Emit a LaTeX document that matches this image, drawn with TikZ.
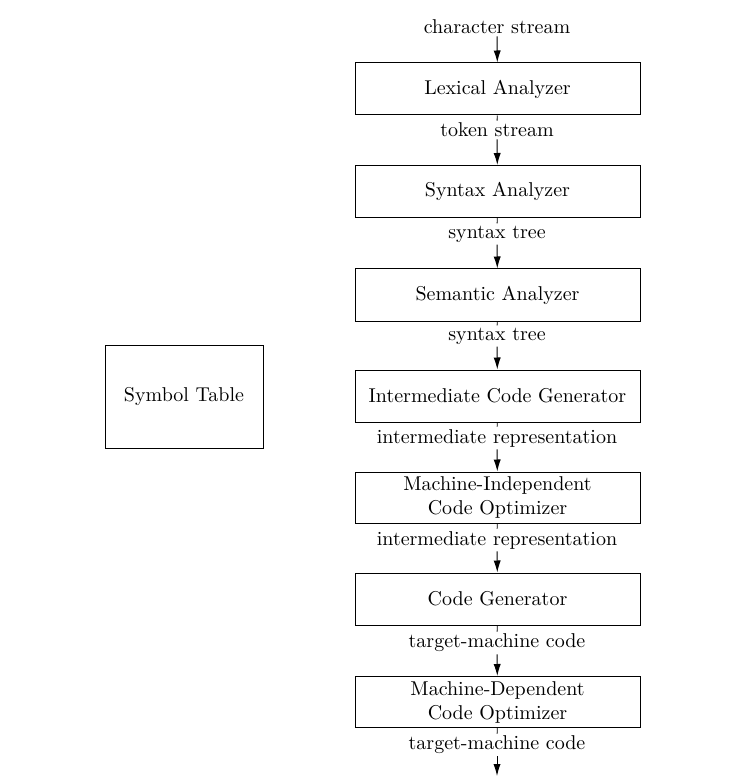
\documentclass[tikz,border=0pt]{standalone}
\usepackage{amsmath}
\usetikzlibrary{arrows.meta}

\begin{document}
\begin{tikzpicture}[x=0.5pt,y=-0.5pt]
\tikzstyle{phase}=[draw=black, line width=0.5pt, minimum width=142.5pt, minimum height=26pt, align=center, inner sep=1pt]
\tikzstyle{flow}=[fill=white, inner sep=1pt]
\tikzstyle{feed}=[-{Latex[length=6pt,width=3.6pt]}, line width=0.5pt]
\useasboundingbox (0,0) rectangle (753,780);
% phases of the compiler
\node [flow] (in) at (497,27) {character stream};
\node [phase] (lex) at (497.5,89) {Lexical Analyzer};
\node [flow] (tok) at (497,130) {token stream};
\node [phase] (syn) at (497.5,191.5) {Syntax Analyzer};
\node [flow] (st1) at (497,234) {syntax tree};
\node [phase] (sem) at (497.5,295) {Semantic Analyzer};
\node [flow] (st2) at (497,336) {syntax tree};
\node [phase] (icg) at (497.5,396) {Intermediate Code Generator};
\node [flow] (ir1) at (497,438) {intermediate representation};
\node [phase, minimum height=25.5pt] (mio) at (497.5,497.5) {Machine-Independent\\Code Optimizer};
\node [flow] (ir2) at (497,540) {intermediate representation};
\node [phase] (cg) at (497.5,599) {Code Generator};
\node [flow] (tm1) at (497,643) {target-machine code};
\node [phase, minimum height=25.5pt] (mdo) at (497.5,702) {Machine-Dependent\\Code Optimizer};
\node [flow] (tm2) at (497,745) {target-machine code};
\coordinate (out) at (497,776);
\node [draw=black, line width=0.5pt, minimum width=79pt, minimum height=51.5pt] (sym) at (184,396.5) {Symbol Table};
% connectors
\draw [feed] (in) -- (lex);
\draw (lex) -- (tok);
\draw [feed] (tok) -- (syn);
\draw (syn) -- (st1);
\draw [feed] (st1) -- (sem);
\draw (sem) -- (st2);
\draw [feed] (st2) -- (icg);
\draw (icg) -- (ir1);
\draw [feed] (ir1) -- (mio);
\draw (mio) -- (ir2);
\draw [feed] (ir2) -- (cg);
\draw (cg) -- (tm1);
\draw [feed] (tm1) -- (mdo);
\draw (mdo) -- (tm2);
\draw [feed] (tm2) -- (out);
\end{tikzpicture}
\end{document}
